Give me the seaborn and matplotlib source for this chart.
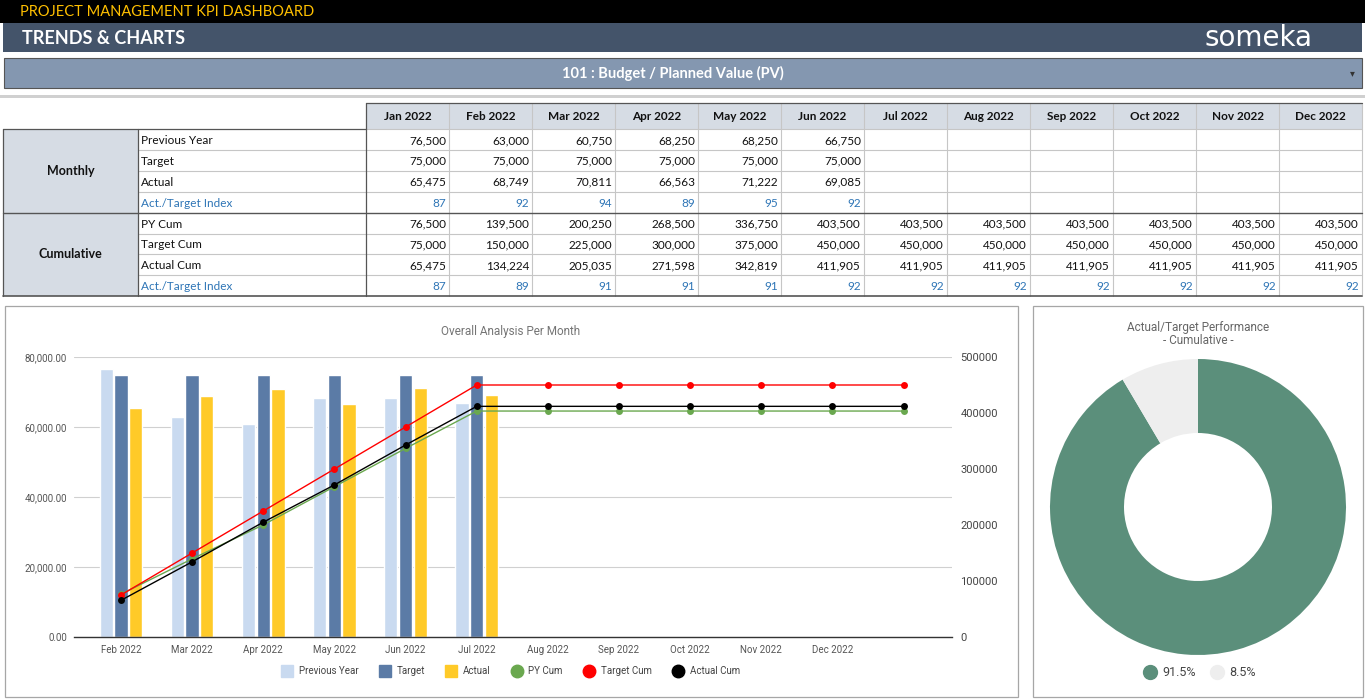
import numpy as np
import pandas as pd
import matplotlib
matplotlib.use("Agg")
import matplotlib.pyplot as plt
import seaborn as sns
from matplotlib.patches import Rectangle
from matplotlib.lines import Line2D
from matplotlib.ticker import FuncFormatter, MultipleLocator

# ---------------- data ----------------
months = ["Jan 2022", "Feb 2022", "Mar 2022", "Apr 2022", "May 2022", "Jun 2022",
          "Jul 2022", "Aug 2022", "Sep 2022", "Oct 2022", "Nov 2022", "Dec 2022"]
prev_year = [76500, 63000, 60750, 68250, 68250, 66750]
target = [75000, 75000, 75000, 75000, 75000, 75000]
actual = [65475, 68749, 70811, 66563, 71222, 69085]
monthly_index = [87, 92, 94, 89, 95, 92]
py_cum = [76500, 139500, 200250, 268500, 336750, 403500,
          403500, 403500, 403500, 403500, 403500, 403500]
target_cum = [75000, 150000, 225000, 300000, 375000, 450000,
              450000, 450000, 450000, 450000, 450000, 450000]
actual_cum = [65475, 134224, 205035, 271598, 342819, 411905,
              411905, 411905, 411905, 411905, 411905, 411905]
cum_index = [87, 89, 91, 91, 91, 92, 92, 92, 92, 92, 92, 92]
chart_xticklabels = ["Feb 2022", "Mar 2022", "Apr 2022", "May 2022", "Jun 2022", "Jul 2022",
                     "Aug 2022", "Sep 2022", "Oct 2022", "Nov 2022", "Dec 2022", ""]
bar_series = ["Previous Year", "Target", "Actual"]
line_series = ["PY Cum", "Target Cum", "Actual Cum"]
perf_labels = ["91.5%", "8.5%"]
perf_values = [91.5, 8.5]

# ---------------- styles ----------------
bar_colors = ["#c9daf0", "#5b7ba6", "#ffca28"]
line_colors = ["#6aa84f", "#ff0000", "#000000"]
donut_colors = ["#5b8f7b", "#eeeeee"]
TABLE_FONT = "Lato"

sns.set_theme(style="white")
plt.rcParams["font.family"] = ["Roboto", "DejaVu Sans"]

W, H = 1365, 700
fig = plt.figure(figsize=(W / 100, H / 100), dpi=100)
fig.patch.set_facecolor("white")

def fx(x):
    return x / W

def fy(y):
    return 1 - y / H

# background / layout axes in pixel coordinates
bg = fig.add_axes([0, 0, 1, 1])
bg.set_xlim(0, W)
bg.set_ylim(H, 0)
bg.axis("off")

def rect(x0, y0, x1, y1, fc, ec="none", lw=0.8, z=1):
    bg.add_patch(Rectangle((x0, y0), x1 - x0, y1 - y0, facecolor=fc, edgecolor=ec, linewidth=lw, zorder=z))

# header bars
rect(0, 0, W, 22.5, "#000000")
bg.text(20, 11.5, "PROJECT MANAGEMENT KPI DASHBOARD", color="#ffc000", fontsize=10.5,
        family=TABLE_FONT, va="center", ha="left")
rect(3, 23, 1362, 52, "#44546a")
bg.text(22, 39, "TRENDS & CHARTS", color="white", fontsize=13, family=TABLE_FONT,
        fontweight="bold", va="center", ha="left")
bg.text(1258, 38, "someka", color="white", fontsize=20, family="DejaVu Sans", va="center", ha="center")
rect(3.5, 58, 1362, 88, "#8497b0", ec="#555555", lw=0.8)
bg.text(673, 73.5, "101 : Budget / Planned Value (PV)", color="white", fontsize=10.5,
        family=TABLE_FONT, fontweight="bold", va="center", ha="center")
bg.text(1352, 73, "\u25BE", color="#333333", fontsize=7, family="DejaVu Sans", va="center", ha="center")
rect(0, 94.5, W, 98, "#d0d0d0")

# ---------------- table ----------------
col_x0 = 366
col_w = 83
n_cols = len(months)
x_end = col_x0 + col_w * n_cols
head_top, head_bot = 103, 129
row_h = 20.9
monthly_rows = [("Previous Year", prev_year), ("Target", target), ("Actual", actual),
                ("Act./Target Index", monthly_index)]
cum_rows = [("PY Cum", py_cum), ("Target Cum", target_cum), ("Actual Cum", actual_cum),
            ("Act./Target Index", cum_index)]
all_rows = monthly_rows + cum_rows
table_bot = head_bot + row_h * len(all_rows)
mid_y = head_bot + row_h * len(monthly_rows)

light = "#c6c6c6"
dark = "#555555"
blue = "#2e75b6"

# header cells
rect(col_x0, head_top, x_end, head_bot, "#d6dce4")
for i, m in enumerate(months):
    bg.text(col_x0 + col_w * (i + 0.5), (head_top + head_bot) / 2 + 0.5, m, fontsize=8.5,
            family=TABLE_FONT, fontweight="bold", color="#111111", ha="center", va="center")
# group cells
rect(3, head_bot, 138, mid_y, "#d6dce4")
rect(3, mid_y, 138, table_bot, "#d6dce4")
bg.text(70.5, (head_bot + mid_y) / 2, "Monthly", fontsize=9, family=TABLE_FONT,
        fontweight="bold", color="#111111", ha="center", va="center")
bg.text(70.5, (mid_y + table_bot) / 2, "Cumulative", fontsize=9, family=TABLE_FONT,
        fontweight="bold", color="#111111", ha="center", va="center")

# rows
for r, (label, vals) in enumerate(all_rows):
    yc = head_bot + row_h * (r + 0.5) + 1
    is_index = label.startswith("Act.")
    color = blue if is_index else "#111111"
    bg.text(141, yc, label, fontsize=8.5, family=TABLE_FONT, color=color, ha="left", va="center")
    for i, v in enumerate(vals):
        txt = f"{v:,}"
        bg.text(col_x0 + col_w * (i + 1) - 3, yc, txt, fontsize=8.5, family=TABLE_FONT,
                color=color, ha="right", va="center")

# grid lines
for r in range(1, len(all_rows)):
    y = head_bot + row_h * r
    if y == mid_y:
        continue
    bg.plot([138, x_end], [y, y], color=light, lw=0.8, zorder=2)
for i in range(1, n_cols + 1):
    x = col_x0 + col_w * i
    bg.plot([x, x], [head_top, table_bot], color=light, lw=0.8, zorder=2)
bg.plot([col_x0, x_end], [head_bot, head_bot], color=light, lw=0.8, zorder=2)
bg.plot([col_x0, x_end], [head_top, head_top], color=dark, lw=0.9, zorder=3)
bg.plot([col_x0, col_x0], [head_top, table_bot], color=dark, lw=0.9, zorder=3)
bg.plot([3, col_x0], [head_bot, head_bot], color=dark, lw=0.9, zorder=3)
bg.plot([3, x_end], [mid_y, mid_y], color=dark, lw=1.0, zorder=3)
bg.plot([3, x_end], [table_bot, table_bot], color=dark, lw=1.2, zorder=3)
bg.plot([3, 3], [head_bot, table_bot], color=dark, lw=0.9, zorder=3)
bg.plot([138, 138], [head_bot, table_bot], color=dark, lw=0.9, zorder=3)

# panels
rect(5, 306, 1018, 697, "white", ec="#a6a6a6", lw=0.9)
rect(1033, 306, 1363, 697, "white", ec="#a6a6a6", lw=0.9)

# ---------------- combo chart ----------------
left_px, right_px, top_px, bot_px = 74, 952, 357, 637
ax = fig.add_axes([fx(left_px), fy(bot_px), fx(right_px - left_px), (bot_px - top_px) / H])
ax.patch.set_visible(False)

n_bar = len(prev_year)
df_bars = pd.DataFrame({
    "month": months[:n_bar] * 3,
    "series": sum([[s] * n_bar for s in bar_series], []),
    "value": prev_year + target + actual,
})
sns.barplot(data=df_bars, x="month", y="value", hue="series", order=months,
            hue_order=bar_series, palette=bar_colors, width=0.62, gap=0.1,
            saturation=1, ax=ax, legend=False, errorbar=None)
ax.set_xlim(-0.66, 11.68)
ax.set_ylim(0, 80000)
ax.yaxis.set_major_locator(MultipleLocator(20000))
ax.yaxis.set_major_formatter(FuncFormatter(lambda v, p: f"{v:,.2f}"))
ax.set_xticks(np.arange(len(months)))
ax.set_xticklabels(chart_xticklabels)
ax.set_xlabel("")
ax.set_ylabel("")
ax.grid(axis="y", color="#d0d0d0", lw=0.8)
ax.grid(axis="x", visible=False)
ax.set_axisbelow(True)
for s in ["top", "right", "left"]:
    ax.spines[s].set_visible(False)
ax.spines["bottom"].set_color("#333333")
ax.spines["bottom"].set_linewidth(1.0)
ax.tick_params(axis="both", length=0, labelsize=7, labelcolor="#555555", pad=6)
ax.tick_params(axis="y", pad=5)

ax2 = ax.twinx()
ax2.patch.set_visible(False)
xpos = np.arange(len(months))
for name, vals, c in zip(line_series, [py_cum, target_cum, actual_cum], line_colors):
    sns.lineplot(x=xpos, y=vals, color=c, marker="o", markersize=5, markeredgewidth=0,
                 linewidth=1.0, ax=ax2, legend=False)
ax2.set_ylim(0, 500000)
ax2.yaxis.set_major_locator(MultipleLocator(100000))
ax2.yaxis.set_major_formatter(FuncFormatter(lambda v, p: f"{int(v)}"))
ax2.set_ylabel("")
for s in ax2.spines.values():
    s.set_visible(False)
ax2.grid(False)
ax2.tick_params(axis="y", length=0, labelsize=8, labelcolor="#444444", pad=6)

fig.text(fx(511), fy(331), "Overall Analysis Per Month", ha="center", va="center",
         fontsize=8.5, color="#757575")

handles = [Line2D([], [], ls="", marker="s", markersize=9, color=c) for c in bar_colors] + \
          [Line2D([], [], ls="", marker="o", markersize=9, color=c) for c in line_colors]
fig.legend(handles, bar_series + line_series, loc="center", bbox_to_anchor=(fx(511), fy(671)),
           ncol=6, frameon=False, fontsize=7, handlelength=1.0, handletextpad=0.7,
           columnspacing=2.2, labelcolor="#444444")

# ---------------- donut ----------------
cx, cy, rad = 1198, 507, 148
ax3 = fig.add_axes([fx(cx - rad), fy(cy + rad), fx(2 * rad), 2 * rad / H])
ax3.pie(perf_values, colors=donut_colors, startangle=90, counterclock=False,
        wedgeprops=dict(width=0.5, edgecolor="none"))
ax3.set_xlim(-1, 1)
ax3.set_ylim(-1, 1)
ax3.set_aspect("equal")
ax3.axis("off")
fig.text(fx(cx), fy(334), "Actual/Target Performance\n- Cumulative -", ha="center", va="center",
         fontsize=8.5, color="#666666", linespacing=1.0)
dh = [Line2D([], [], ls="", marker="o", markersize=10, color=c) for c in donut_colors]
fig.legend(dh, perf_labels, loc="center", bbox_to_anchor=(fx(1200), fy(673)), ncol=2,
           frameon=False, fontsize=9, handlelength=1.0, handletextpad=0.5,
           columnspacing=1.2, labelcolor="#444444")

fig.savefig("out.png", dpi=100, facecolor="white")
